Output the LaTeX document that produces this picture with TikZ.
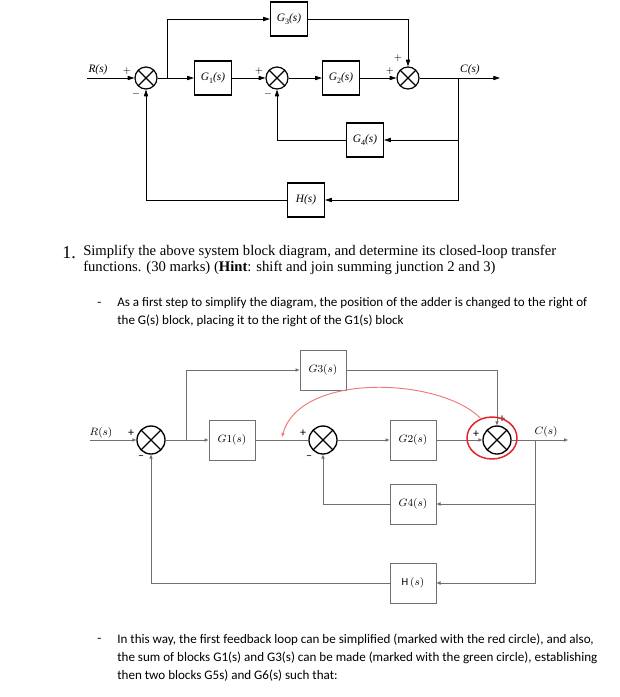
\documentclass[tikz,border=0pt]{standalone}
\usepackage{fontspec}
\newfontfamily\timesf{Liberation Serif}
\newfontfamily\calib{Carlito}
\usetikzlibrary{arrows.meta,shapes.geometric}
\definecolor{lgray}{HTML}{707070}
\definecolor{redc}{HTML}{E0262A}
\definecolor{arcc}{HTML}{F07878}
\newcommand{\tfn}[2]{{\timesf\itshape #1\ifx&#2&\else\raisebox{-1.8pt}{\upshape\fontsize{6}{6}\selectfont #2}\fi(s)}}
\tikzset{
  sumA/.style={circle,draw=black,line width=0.9pt,minimum size=16.5pt,inner sep=0pt,
    path picture={\draw[line width=0.9pt] (path picture bounding box.north west) -- (path picture bounding box.south east)
      (path picture bounding box.north east) -- (path picture bounding box.south west);}},
  blkA/.style={draw=black,line width=0.9pt,minimum width=27.75pt,minimum height=25.5pt,inner sep=0pt,font=\fontsize{8.5}{9}\selectfont},
  sigA/.style={line width=0.55pt,-{Triangle[length=5pt,width=3.2pt]}},
  sumB/.style={circle,draw=black,line width=1pt,minimum size=21pt,inner sep=0pt,
    path picture={\draw[line width=1pt] (path picture bounding box.north west) -- (path picture bounding box.south east)
      (path picture bounding box.north east) -- (path picture bounding box.south west);}},
  blkB/.style={draw=lgray,line width=0.75pt,minimum width=34.5pt,minimum height=30pt,inner sep=0pt,font=\fontsize{8}{9}\selectfont},
  sigB/.style={draw=lgray,line width=0.75pt,-{Triangle[length=3pt,width=2.4pt]}},
  lnB/.style={draw=lgray,line width=0.75pt},
  signA/.style={font=\fontsize{7}{8}\selectfont,inner sep=0pt},
  signB/.style={font=\calib\fontsize{9}{10}\selectfont,inner sep=0pt},
  txtA/.style={anchor=north west,inner sep=0pt,align=left,font=\timesf\fontsize{11}{11.6}\selectfont},
  txtB/.style={anchor=north west,inner sep=0pt,align=left,font=\calib\fontsize{9.8}{13.5}\selectfont},
}
\begin{document}
\begin{tikzpicture}[x=0.75pt,y=-0.75pt]
\useasboundingbox[fill=white] (0,0) rectangle (619,697);
% ---------- top diagram ----------
\node[sumA] (a1) at (146,78) {};
\node[sumA] (a2) at (277,78) {};
\node[sumA] (a3) at (408,78) {};
\node[blkA] (g1) at (213,78) {\tfn{G}{1}};
\node[blkA] (g2) at (341,78) {\tfn{G}{2}};
\node[blkA] (g3) at (289,19) {\tfn{G}{3}};
\node[blkA] (g4) at (365,140) {\tfn{G}{4}};
\node[blkA] (h) at (306,200) {\tfn{H}{}};
\coordinate (rin) at (87,78);
\coordinate (br1) at (167,78);
\coordinate (cout) at (500,78);
\coordinate (br2) at (458,78);
\draw[sigA] (rin) -- (a1);
\draw[sigA] (a1) -- (g1);
\draw[sigA] (br1) |- (g3);
\draw[sigA] (g1) -- (a2);
\draw[sigA] (a2) -- (g2);
\draw[sigA] (g2) -- (a3);
\draw[sigA] (g3) -| (a3);
\draw[sigA] (a3) -- (cout);
\draw[sigA] (br2) |- (g4);
\draw[sigA] (br2) |- (h);
\draw[sigA] (g4) -| (a2);
\draw[sigA] (h) -| (a1);
\node[font=\fontsize{8.5}{9}\selectfont] (rl) at (98,70) {\tfn{R}{}};
\node[font=\fontsize{8.5}{9}\selectfont] (cl) at (470,70) {\tfn{C}{}};
\node[signA] (s1p) at (127,71) {$+$};
\node[signA] (s1m) at (136,94) {$-$};
\node[signA] (s2p) at (259,71) {$+$};
\node[signA] (s2m) at (268,94) {$-$};
\node[signA] (s3a) at (398,58) {$+$};
\node[signA] (s3b) at (390,71) {$+$};
% ---------- question text ----------
\node[anchor=west,inner sep=0pt,font=\timesf\fontsize{13.5}{14}\selectfont] (q1n) at (62,253) {1.};
\node[txtA] (q1) at (83,245) {Simplify the above system block diagram, and determine its closed-loop transfer\\functions. (30 marks) (\textbf{Hint}: shift and join summing junction 2 and 3)};
\node[txtB,anchor=west] (d1) at (97,304) {-};
\node[txtB] (t1) at (117,297) {As a first step to simplify the diagram, the position of the adder is changed to the right of\\the G(s) block, placing it to the right of the G1(s) block};
% ---------- second diagram ----------
\node[sumB] (b1) at (151,440) {};
\node[sumB] (b2) at (323,440) {};
\node[sumB] (b3) at (497,440) {};
\node[blkB] (k3) at (323,370) {$G3(s)$};
\node[blkB] (k1) at (232,440) {$G1(s)$};
\node[blkB] (k2) at (413,440) {$G2(s)$};
\node[blkB] (k4) at (413,504) {$G4(s)$};
\node[blkB] (kh) at (413,583) {{\calib H}$\,(s)$};
\coordinate (rin2) at (90,440);
\coordinate (bb1) at (186,440);
\coordinate (cout2) at (568,440);
\coordinate (bb2) at (535,440);
\draw[sigB] (rin2) -- (b1);
\draw[sigB] (b1) -- (k1);
\draw[sigB] (bb1) |- (k3);
\draw[lnB] (k1) -- (b2);
\draw[sigB] (b2) -- (k2);
\draw[sigB] (k2) -- (b3);
\draw[sigB] (k3) -| (b3);
\draw[sigB] (b3) -- (cout2);
\draw[sigB] (bb2) |- (k4);
\draw[sigB] (bb2) |- (kh);
\draw[sigB] (k4) -| (b2);
\draw[sigB] (kh) -| (b1);
\node[font=\fontsize{8.5}{9}\selectfont] (rl2) at (101,433) {$R(s)$};
\node[font=\fontsize{8.5}{9}\selectfont] (cl2) at (546,432) {$C(s)$};
\node[signB] (u1p) at (131,433) {+};
\node[signB] (u1m) at (141,458) {–};
\node[signB] (u2p) at (303,433) {+};
\node[signB] (u2m) at (309,458) {–};
\node[signB] (u3a) at (476,434) {+};
\node[signB] (u3b) at (502,419) {+};
% red marks
\node[draw=redc,line width=1.1pt,ellipse,minimum width=37.5pt,minimum height=31.5pt,inner sep=0pt] (ell) at (492,438) {};
\coordinate (arcend) at (282,437);
\draw[arcc,line width=0.7pt,-{Triangle[length=3pt,width=2.4pt]}] (ell.120) .. controls (440,377) and (300,372) .. (arcend);
% ---------- bottom text ----------
\node[txtB,anchor=west] (d2) at (97,640) {-};
\node[txtB] (t2) at (117,634) {In this way, the first feedback loop can be simplified (marked with the red circle), and also,\\the sum of blocks G1(s) and G3(s) can be made (marked with the green circle), establishing\\then two blocks G5s) and G6(s) such that:};
\end{tikzpicture}
\end{document}
